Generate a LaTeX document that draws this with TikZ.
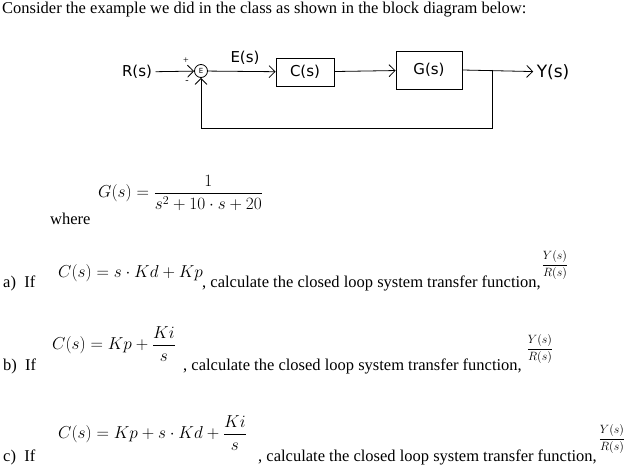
\documentclass[tikz,border=0pt]{standalone}
\usepackage{amsmath}
\usepackage{fontspec}
\setmainfont{Liberation Serif}
\newfontfamily\hand{DejaVu Sans}
\usetikzlibrary{arrows.meta}
\begin{document}
\begin{tikzpicture}[x=1pt,y=-1pt,
  blk/.style={draw,line width=0.9pt,minimum height=28pt,font=\hand\fontsize{15}{17}\selectfont},
  hw/.style={font=\hand\fontsize{15}{17}\selectfont},
  txt/.style={anchor=west,font=\fontsize{16.5}{19}\selectfont,inner sep=0},
  mth/.style={anchor=west,font=\fontsize{17}{20}\selectfont,inner sep=0},
  frc/.style={anchor=center,font=\fontsize{13}{16}\selectfont,inner sep=0},
  arr/.style={-{Straight Barb[length=6pt]},line width=0.8pt},
  ln/.style={line width=0.8pt}]
\useasboundingbox (0,0) rectangle (637,473);
\node[txt] (hdr) at (2,10) {Consider the example we did in the class as shown in the block diagram below:};
% block diagram
\node[hw] (r) at (137,72) {R(s)};
\node[draw,circle,inner sep=0,minimum size=13pt,font=\hand\scriptsize,line width=0.8pt] (sum) at (201,71) {E};
\node[hw] (e) at (245,58) {E(s)};
\node[blk,minimum width=58pt] (c) at (305,72) {C(s)};
\node[blk,minimum width=66pt,minimum height=38pt] (g) at (429,70) {G(s)};
\node[hw,font=\hand\fontsize{17}{19}\selectfont] (y) at (553,72) {Y(s)};
\node[font=\normalsize] (plus) at (186,61) {+};
\node[font=\normalsize] (minus) at (187,82) {-};
\coordinate (br) at (492,70);
\coordinate (bd) at (492,128);
\coordinate (bl) at (201,128);
\draw[arr] (r) -- (sum);
\draw[arr] (sum) -- (c);
\draw[arr] (c) -- (g);
\draw[arr] (g.east|-br) -- (y);
\draw[ln] (br) -- (bd) -- (bl);
\draw[arr] (bl) -- (sum);
% G(s)
\node[mth] (gs) at (98,193) {$G(s)=\dfrac{1}{s^2+10\cdot s+20}$};
\node[txt] (where) at (50,219) {where};
% a
\node[txt] (a) at (3,283) {a)\ \ If};
\node[mth] (ca) at (58,273) {$C(s)=s\cdot Kd+Kp$};
\node[txt] (ta) at (202,283) {, calculate the closed loop system transfer function,};
\node[frc] (fa) at (555,265) {$\dfrac{Y(s)}{R(s)}$};
% b
\node[txt] (b) at (3,366) {b)\ \ If};
\node[mth] (cb) at (52,344) {$C(s)=Kp+\dfrac{Ki}{s}$};
\node[txt] (tb) at (183,366) {, calculate the closed loop system transfer function,};
\node[frc] (fb) at (540,349) {$\dfrac{Y(s)}{R(s)}$};
% c
\node[txt] (cc) at (3,457) {c)\ \ If};
\node[mth] (ccf) at (58,433) {$C(s)=Kp+s\cdot Kd+\dfrac{Ki}{s}$};
\node[txt] (tc) at (258,457) {, calculate the closed loop system transfer function,};
\node[frc] (fc) at (612,439) {$\dfrac{Y(s)}{R(s)}$};
\end{tikzpicture}
\end{document}
